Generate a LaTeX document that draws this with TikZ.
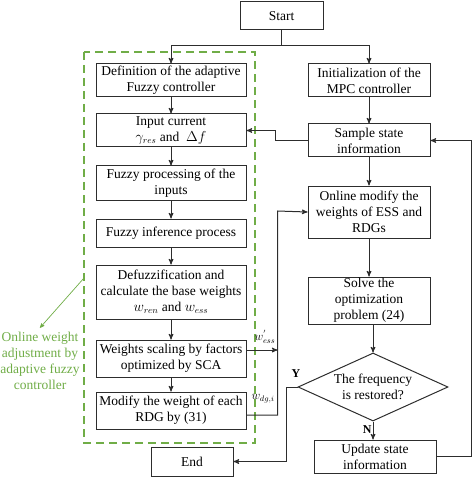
\documentclass[tikz,border=0pt]{standalone}
\usepackage{amsmath}
\usepackage{fontspec}
\setmainfont{Liberation Serif}
\usepackage{tikz}
\usetikzlibrary{arrows,shapes.geometric}

\definecolor{boxgray}{RGB}{45,45,45}
\definecolor{fuzzygreen}{RGB}{112,173,71}

\begin{document}
\begin{tikzpicture}[x=1pt,y=-1pt,->,>=stealth',line width=1pt,draw=boxgray,
  font=\fontsize{13.5}{16}\selectfont,
  box/.style={rectangle,draw=boxgray,-,align=center,inner sep=1pt,minimum width=150pt},
  rbox/.style={box,minimum width=122pt},
  decision/.style={diamond,draw=boxgray,-,inner sep=0pt,minimum width=150pt,minimum height=68pt},
  tag/.style={inner sep=1pt,font=\fontsize{12}{14}\selectfont}]
      \useasboundingbox (0,0) rectangle (474,478);

      % start / end
      \node[box,minimum width=83pt,minimum height=28pt] (start) at (281.5,16) {Start};
      \node[box,minimum width=82pt,minimum height=29pt] (end) at (192,461.5) {End};

      % fuzzy controller column
      \node[box,minimum height=33pt] (def) at (171,80.5) {Definition of the adaptive\\Fuzzy controller};
      \node[box,minimum height=33pt] (input) at (171,130.5) {Input current\\$\gamma_{res}$ and ~$\Delta f$};
      \node[box,minimum height=34pt] (fproc) at (171,183) {Fuzzy processing of the\\inputs};
      \node[box,minimum height=28pt] (finf) at (171,233) {Fuzzy inference process};
      \node[box,minimum height=54pt] (defuzz) at (171,292) {Defuzzification and\\calculate the base weights\\$w_{ren}$ and $w_{ess}$};
      \node[box,minimum height=37pt] (scale) at (171,358.5) {Weights scaling by factors\\optimized by SCA};
      \node[box,minimum height=37pt] (modify) at (171,410.5) {Modify the weight of each\\RDG by (31)};

      % MPC column
      \node[rbox,minimum height=33pt] (init) at (369,80.5) {Initialization of the\\MPC controller};
      \node[rbox,minimum height=33pt] (sample) at (369,140.5) {Sample state\\information};
      \node[rbox,minimum height=52pt] (online) at (369,212) {Online modify the\\weights of ESS and\\RDGs};
      \node[rbox,minimum height=47pt] (solve) at (369,300.5) {Solve the\\optimization\\problem (24)};
      \node[decision] (freq) at (373,387) {};
      \node[inner sep=0pt,align=center] (freqtext) at (freq) {The frequency\\is restored?};
      \node[rbox,minimum height=33pt] (update) at (375,456.5) {Update state\\information};

      % dashed frame and its note
      \coordinate (frameA) at (84,52);
      \coordinate (frameB) at (255,443);
      \draw[-,fuzzygreen,dash pattern=on 8pt off 5pt,line width=1.1pt] (frameA) rectangle (frameB);
      \coordinate (frametip) at (84,278);
      \node[align=center,text=fuzzygreen,inner sep=1pt] (note) at (40,361) {Online weight\\adjustment by\\adaptive fuzzy\\controller};
      \draw[fuzzygreen,line width=.7pt] (frametip) -- ([yshift=3pt]note.north);

      % column arrows
      \draw (start.south) -- ++(0,15) -| (def.north);
      \draw (start.south) -- ++(0,15) -| (init.north);
      \draw (def) -- (input);
      \draw (input) -- (fproc);
      \draw (fproc) -- (finf);
      \draw (finf) -- (defuzz);
      \draw (defuzz) -- (scale);
      \draw (scale) -- (modify);
      \draw (init) -- (sample);
      \draw (sample) -- (online);
      \draw (solve.south -| freq.north) -- (freq.north);
      \draw (online) -- (solve);
      \draw (freq.south) -- (freq.south |- update.north) node[tag,pos=.45,left,font=\bfseries\fontsize{12}{14}\selectfont] (no) {N};

      % feedback lines
      \draw (sample.west) -- ++(-32,0) |- (input.east);
      \draw (update.east) -- ++(35,0) |- (sample.east);
      \coordinate (bus) at (277.5,211);
      \coordinate (busin) at (277.5,350);
      \draw ([yshift=-4.5pt]modify.east) -| (bus) -- (online.west);
      \draw ([yshift=8.5pt]scale.east) -- (busin);
      \node[tag] (wess) at (265,337) {$w_{ess}^{'}$};
      \node[tag] (wdg) at (263,399) {$w_{dg,i}$};
      \draw (freq.west) -- ++(-11,0) |- (end.east);
      \node[tag,font=\bfseries\fontsize{12}{14}\selectfont] (yes) at (296,374) {Y};

\end{tikzpicture}
\end{document}
